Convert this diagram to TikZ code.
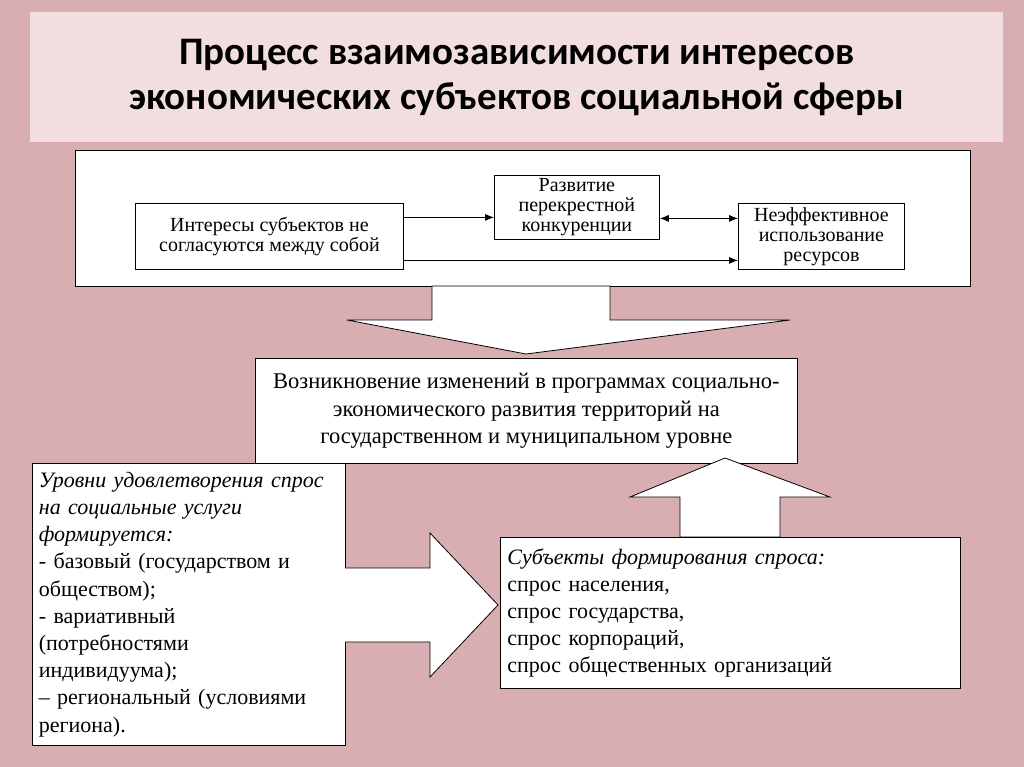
\documentclass[tikz,border=0pt]{standalone}
\usepackage{fontspec}
\setmainfont{Liberation Serif}
\newfontfamily\titlefont{Carlito}
\usetikzlibrary{arrows.meta, positioning}
\definecolor{bgpink}{HTML}{D8AEB2}
\definecolor{titlepink}{HTML}{F2DEDE}
\tikzset{
  smallbox/.style={draw, fill=white, thick, align=center, font=\fontsize{20}{20}\selectfont},
  conn/.style={-{Latex[length=9pt,width=7pt]}, thick},
  bigarrow/.style={draw, fill=white, thick},
}
\begin{document}
\begin{tikzpicture}[x=1pt, y=-1pt]
  \useasboundingbox (0,0) rectangle (1024,767);
  \fill[bgpink] (0,0) rectangle (1024,767);
  % title
  \node[fill=titlepink, minimum width=973pt, minimum height=130pt, anchor=north west, inner sep=0pt,
        font=\titlefont\bfseries\fontsize{39}{45}\selectfont, align=center] (title) at (30,12)
        {Процесс взаимозависимости интересов\\экономических субъектов социальной сферы};
  % top frame
  \draw[fill=white, thick] (75,150) rectangle (970,286);
  \node[smallbox, minimum width=268pt, minimum height=66pt, anchor=north west] (interests) at (135,203)
        {Интересы субъектов не\\согласуются между собой};
  \node[smallbox, minimum width=165pt, minimum height=64pt, anchor=north west, inner sep=1pt] (rivalry) at (494,175)
        {Развитие\\перекрестной\\конкуренции};
  \node[smallbox, minimum width=166pt, minimum height=66pt, anchor=north west, inner sep=1pt] (waste) at (738,203)
        {Неэффективное\\использование\\ресурсов};
  \draw[conn] ([yshift=19pt]interests.east) -- ([yshift=-10pt]rivalry.west);
  \draw[{Latex[length=9pt,width=7pt]}-{Latex[length=9pt,width=7pt]}, thick] ([yshift=-11pt]rivalry.east) -- ([yshift=18pt]waste.west);
  \draw[conn] ([yshift=-24pt]interests.east) -- ([yshift=-24pt]waste.west);
  % down arrow
  \draw[bigarrow] (432,286) -- (610,286) -- (610,320) -- (790,320) -- (526,354) -- (347,320) -- (432,320) -- cycle;
  % middle box
  \node[draw, fill=white, thick, minimum width=542pt, minimum height=105pt, anchor=north west,
        align=center, font=\fontsize{22.5}{27.5}\selectfont] (changes) at (255,358)
        {Возникновение изменений в программах социально-\\экономического развития территорий на\\государственном и муниципальном уровне};
  % up arrow
  \draw[bigarrow] (680,537) -- (680,497) -- (630,497) -- (725,458) -- (830,497) -- (780,497) -- (780,537) -- cycle;
  % left box
  \node[draw, fill=white, thick, minimum width=313pt, minimum height=282pt, anchor=north west,
        align=left, text width=300pt, font=\fontsize{22}{27.2}\selectfont] (levels) at (32,463)
        {{\itshape Уровни удовлетворения спрос}\\{\itshape на социальные услуги}\\{\itshape формируется:}\\- базовый (государством и\\обществом);\\- вариативный\\(потребностями\\индивидуума);\\– региональный (условиями\\региона).};
  % right arrow
  \draw[bigarrow] (345,568) -- (430,568) -- (430,533) -- (498,605) -- (430,677) -- (430,642) -- (345,642);
  % right box
  \node[draw, fill=white, thick, minimum width=460pt, minimum height=151pt, anchor=north west,
        align=left, text width=446pt, font=\fontsize{22}{27}\selectfont] (subjects) at (500,537)
        {{\itshape Субъекты формирования спроса:}\\спрос населения,\\спрос государства,\\спрос корпораций,\\спрос общественных организаций\\[6pt]};
\end{tikzpicture}
\end{document}
